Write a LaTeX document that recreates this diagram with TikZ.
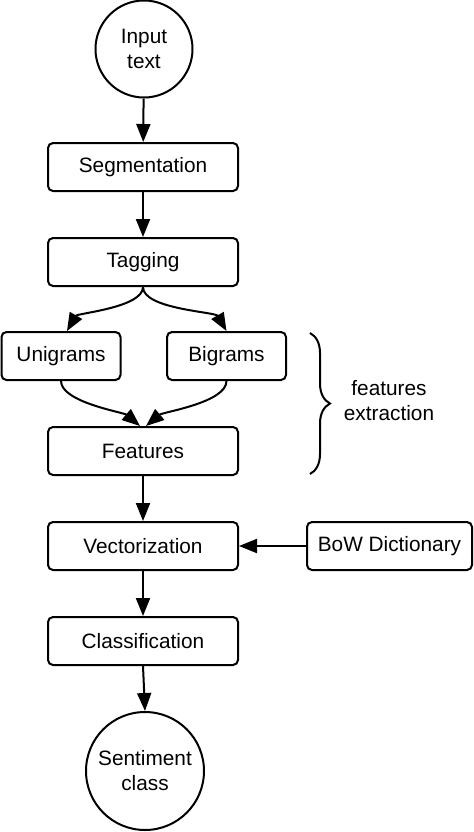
\documentclass[tikz,border=0pt]{standalone}
\usepackage{fontspec}
\setmainfont{Liberation Sans}
\usetikzlibrary{arrows.meta,positioning,shapes,calc,decorations.pathreplacing}

\begin{document}
\begin{tikzpicture}[x=0.5pt,y=-0.5pt,
    font=\fontsize{10.4}{12.5}\selectfont,
    every node/.style={line width=1pt},
    stepbox/.style={draw,rounded corners=2.5pt,minimum width=95pt,minimum height=24pt,inner sep=0pt},
    smallbox/.style={stepbox,minimum width=59.5pt},
    ends/.style={draw,circle,align=center,inner sep=0pt},
    flow/.style={line width=1pt,-{Triangle[length=9pt,width=7pt]}}]
    \useasboundingbox (0,0) rectangle (474,832);
    \node[ends,minimum size=48.5pt] (input) at (144,49) {Input\\text};
    \node[stepbox] (seg) at (143,167) {Segmentation};
    \node[stepbox] (tag) at (143,262) {Tagging};
    \node[smallbox] (uni) at (61,356) {Unigrams};
    \node[smallbox] (bi) at (226.5,356) {Bigrams};
    \node[stepbox] (feat) at (143,451) {Features};
    \node[stepbox] (vec) at (143,546) {Vectorization};
    \node[stepbox,minimum width=82.5pt] (bow) at (389.5,546) {BoW Dictionary};
    \node[stepbox] (cls) at (143,641) {Classification};
    \node[ends,minimum size=59pt] (sent) at (145,771) {Sentiment\\class};
    \draw[flow] (input) -- (seg);
    \draw[flow] (seg) -- (tag);
    \draw[flow] (tag.south) to[out=-90,in=60,looseness=0.6] ([xshift=3pt]uni.north);
    \draw[flow] (tag.south) to[out=-90,in=120,looseness=0.6] (bi.north);
    \draw[flow] (uni.south) to[out=-90,in=140,looseness=0.6] ([xshift=-1.5pt]feat.north);
    \draw[flow] (bi.south) to[out=-90,in=40,looseness=0.6] ([xshift=1.5pt]feat.north);
    \draw[flow] (feat) -- (vec);
    \draw[flow] (bow) -- (vec);
    \draw[flow] (vec) -- (cls);
    \draw[flow] (cls.south) -- (sent.north);
    \coordinate (braceTop) at (310,333);
    \coordinate (braceBot) at (310,474);
    \draw[line width=1pt,decorate,decoration={brace,amplitude=10pt}] (braceTop) -- (braceBot);
    \node[align=center] (fx) at (389,401) {features\\extraction};
\end{tikzpicture}
\end{document}
